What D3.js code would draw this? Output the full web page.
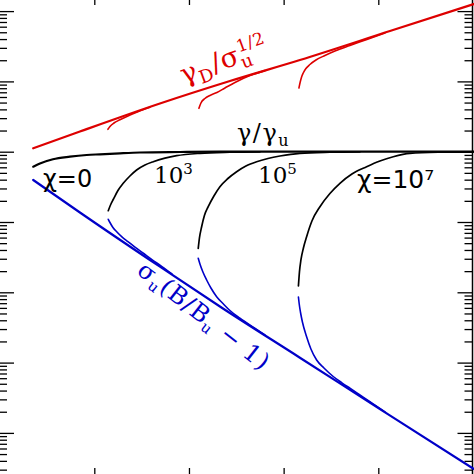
<!DOCTYPE html>
<html><head><meta charset="utf-8">
<script src="https://cdn.jsdelivr.net/npm/d3@7"></script>
<style>body{margin:0;background:#fff}svg{display:block}</style>
</head><body>
<svg id="c" width="474" height="474"></svg>
<script>
// ---- data (log-log axes) ----
const xTicks = [10, 100, 1000, 10000];
const yDecades = [1e-4, 1e-3, 1e-2, 1e-1, 1, 10, 100];
const yMinorMult = [2, 3, 4, 5, 6, 7, 8, 9];

// red: gamma_D / sigma_u^(1/2)
const redChi0 = [[2.264,1.118],[7.05,1.938],[49.34,4.85],[270.8,10.13],[1486,20.16],[13270,52.1],[118400,134.4]];
const redChi3 = [[13.93,2.083],[14.63,2.283],[16.12,2.560],[18.65,2.843],[22.66,3.221],[28.89,3.694],[38.69,4.280]];
const redChi5 = [[127.4,4.143],[133.8,4.929],[147.4,5.712],[166.5,6.302],[197.4,6.952],[239.9,8.057],[305.9,9.647],[440.6,12.13],[634.5,14.24]];
const redChi7 = [[1451,8.057],[1497,9.806],[1542,11.37],[1611,13.17],[1720,15.26],[1895,17.39],[2194,20.16],[2731,23.35],[3483,27.06],[5014,32.42],[7583,39.45],[11750,48.81]];

// black: gamma / gamma_u
const blackChi0 = [[2.264,0.6118],[2.666,0.6795],[3.656,0.7797],[5.529,0.8490],[8.299,0.8976],[11.47,0.9183],[18.65,0.9489],[30.34,0.9741],[80.27,0.9902],[212.3,1],[118400,1]];
const blackChi3 = [[14.04,0.1448],[14.99,0.1803],[15.85,0.2089],[17.77,0.2806],[20.21,0.3552],[23.78,0.4511],[28.00,0.5490],[34.26,0.6467],[41.93,0.7207],[55.73,0.8084],[74.09,0.8772],[130.6,0.9489],[270.8,0.9837],[562,0.9967]];
const blackChi5 = [[125.3,0.04225],[129.0,0.05920],[136.1,0.08570],[145.6,0.1238],[159.7,0.1651],[183.4,0.2343],[212.3,0.3177],[257.9,0.4157],[318.7,0.5193],[399.7,0.6261],[518.5,0.7207],[682.3,0.8003],[914.1,0.8685],[1486,0.9489],[3083,0.9837],[6395,0.9967]];
const blackChi7 = [[1433,0.01229],[1469,0.01944],[1523,0.02881],[1618,0.04268],[1749,0.06178],[1990,0.1033],[2418,0.1651],[3083,0.2543],[3932,0.3552],[5263,0.4817],[7527,0.6118],[10400,0.7375],[14380,0.8490],[21580,0.9489],[44760,0.9837],[118400,0.9967]];

// blue: sigma_u (B/B_u - 1)
const blueChi0 = [[2.264,0.3958],[7.05,0.1365],[49.34,0.02313],[228.5,0.005884],[1486,0.001174],[10400,0.0002188],[102300,3.066e-5],[118400,2.706e-5]];
const blueChi3 = [[14.04,0.1092],[14.63,0.09838],[15.73,0.08354],[17.34,0.07207],[19.58,0.06159],[22.66,0.05263],[26.87,0.04381],[32.64,0.03622],[40.63,0.02918],[51.82,0.02320],[66.07,0.01821]];
const blueChi5 = [[125.3,0.03046],[130.6,0.02527],[140.4,0.01944],[153.7,0.01496],[170.6,0.01151],[196.0,0.008660],[228.5,0.006930],[270.8,0.005510],[345.4,0.004281],[462.6,0.003263],[634.5,0.002470]];
const blueChi7 = [[1433,0.008572],[1461,0.006818],[1505,0.005246],[1579,0.003781],[1749,0.002335],[1942,0.001561],[2231,0.001089],[2666,0.0008380],[3341,0.0006342],[4127,0.0005161],[5014,0.0004322],[6395,0.0003471],[8155,0.0002788],[11750,0.0001983]];

const RED = '#dd0000', BLUE = '#0000c8', BLACK = '#000';

// ---- chart ----
const svg = d3.select('#c');
const x = d3.scaleLog().domain([10, 1e4]).range([94.3, 378.3]);
const y = d3.scaleLog().domain([1e-4, 1e2]).range([432.9, 11.1]);

svg.append('defs').append('clipPath').attr('id','clip')
  .append('rect').attr('x',0).attr('y',0).attr('width',474).attr('height',474);
const g = svg.append('g').attr('clip-path','url(#clip)');
g.append('rect').attr('width',474).attr('height',474).attr('fill','#fff');

const yMinor = [];
yDecades.forEach(d => yMinorMult.forEach(m => yMinor.push(d*m)));
yMinor.unshift(...yMinorMult.map(m => 1e-5*m));

const L = -1, R = 472.5, T = -9, B = 482;
function style(sel){ sel.select('.domain').remove(); sel.selectAll('line').attr('stroke','#000').attr('stroke-width',1.3); }
g.append('g').attr('transform',`translate(${L},0)`).call(d3.axisRight(y).tickValues(yDecades).tickSize(15).tickSizeOuter(0).tickFormat('')).call(style);
g.append('g').attr('transform',`translate(${L},0)`).call(d3.axisRight(y).tickValues(yMinor).tickSize(8).tickSizeOuter(0).tickFormat('')).call(style);
g.append('g').attr('transform',`translate(${R},0)`).call(d3.axisLeft(y).tickValues(yDecades).tickSize(15).tickSizeOuter(0).tickFormat('')).call(style);
g.append('g').attr('transform',`translate(${R},0)`).call(d3.axisLeft(y).tickValues(yMinor).tickSize(8).tickSizeOuter(0).tickFormat('')).call(style);
g.append('g').attr('transform',`translate(0,${T})`).call(d3.axisBottom(x).tickValues(xTicks).tickSize(14).tickSizeOuter(0).tickFormat('')).call(style);
g.append('g').attr('transform',`translate(0,${B})`).call(d3.axisTop(x).tickValues(xTicks).tickSize(14).tickSizeOuter(0).tickFormat('')).call(style);
g.append('rect').attr('x',L).attr('y',T).attr('width',R-L).attr('height',B-T)
  .attr('fill','none').attr('stroke','#000').attr('stroke-width',1.5);

const line = d3.line().x(d => x(d[0])).y(d => y(d[1])).curve(d3.curveMonotoneX);
function draw(data, color, w){
  g.append('path').datum(data).attr('d', line).attr('fill','none')
   .attr('stroke', color).attr('stroke-width', w).attr('stroke-linecap','round');
}
[redChi3, redChi5, redChi7].forEach(d => draw(d, RED, 1.6));
draw(redChi0, RED, 2.2);
[blueChi3, blueChi5, blueChi7].forEach(d => draw(d, BLUE, 1.6));
draw(blueChi0, BLUE, 2.2);
[blackChi3, blackChi5, blackChi7].forEach(d => draw(d, BLACK, 1.7));
draw(blackChi0, BLACK, 2.2);

// ---- labels ----
const SERIF = "'DejaVu Serif', serif", SANS = "'DejaVu Sans', sans-serif";

const tr = g.append('text').attr('transform','translate(184,84) rotate(-20)')
  .attr('fill',RED).attr('font-family',SERIF).attr('font-size',27).attr('letter-spacing',0.5);
tr.append('tspan').text('γ');
tr.append('tspan').attr('font-size',18).attr('dy',6).text('D');
tr.append('tspan').attr('font-size',27).attr('dy',-6).attr('dx',1).text('/σ');
tr.append('tspan').attr('font-size',18).attr('dy',6).text('u');
tr.append('tspan').attr('font-size',17).attr('dy',-17).attr('dx',-11).text('1/2');

const tb = g.append('text').attr('x',237).attr('y',141)
  .attr('fill',BLACK).attr('font-family',SERIF).attr('font-size',24).attr('letter-spacing',1.5);
tb.append('tspan').text('γ/γ');
tb.append('tspan').attr('font-size',16).attr('dy',5).text('u');

const tu = g.append('text').attr('transform','translate(204,316) rotate(38)')
  .attr('y',8).attr('text-anchor','middle')
  .attr('fill',BLUE).attr('font-family',SERIF).attr('font-size',24).attr('letter-spacing',1);
tu.append('tspan').text('σ');
tu.append('tspan').attr('font-size',15).attr('dy',5).text('u');
tu.append('tspan').attr('font-size',24).attr('dy',-5).text('(B/B');
tu.append('tspan').attr('font-size',15).attr('dy',5).text('u');
tu.append('tspan').attr('font-size',24).attr('dy',-5).text(' − 1)');

g.append('text').attr('x',43).attr('y',187).attr('font-family',SANS).attr('font-size',24).text('χ=0');
g.append('text').attr('x',357).attr('y',188).attr('font-family',SANS).attr('font-size',25).text('χ=10⁷');

function pow(xp, yp, e){
  const t = g.append('text').attr('x',xp).attr('y',yp).attr('font-family',SERIF).attr('font-size',23);
  t.append('tspan').text('10');
  t.append('tspan').attr('font-size',15).attr('dy',-9).text(e);
}
pow(154,183,'3');
pow(258,183,'5');
</script>
</body></html>
